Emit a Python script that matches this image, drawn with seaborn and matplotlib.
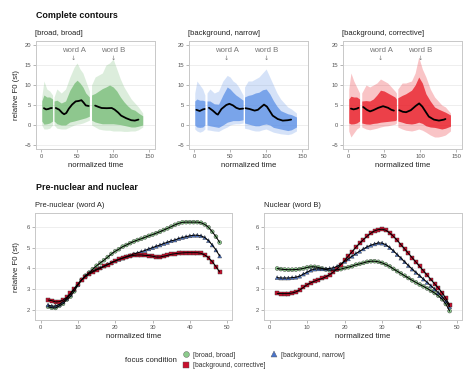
import numpy as np
import pandas as pd
import matplotlib
matplotlib.use("Agg")
import matplotlib.pyplot as plt
from matplotlib.lines import Line2D
import seaborn as sns

# ---------------- data ----------------
conditions = ["[broad, broad]", "[background, narrow]", "[background, corrective]"]
cloud_colors = ["#74bb74", "#5b8fe6", "#e8141f"]
mark_colors = ["#8ccb8c", "#4a74cc", "#c8102e"]
mark_styles = ["o", "^", "s"]

# normalized time for pre-nuclear / nuclear panels
t_word = list(range(2, 49))

wordA_broad = [2.16, 2.11, 2.10, 2.20, 2.30, 2.50, 2.65, 2.90, 3.20, 3.45, 3.65, 3.80, 3.97, 4.13, 4.27, 4.40,
               4.55, 4.70, 4.83, 4.93, 5.05, 5.13, 5.22, 5.30, 5.37, 5.43, 5.50, 5.57, 5.63, 5.70, 5.77, 5.85,
               5.93, 6.01, 6.10, 6.17, 6.22, 6.23, 6.23, 6.23, 6.23, 6.20, 6.12, 5.98, 5.77, 5.53, 5.25]
wordA_narrow = [2.24, 2.19, 2.19, 2.27, 2.40, 2.56, 2.75, 3.00, 3.23, 3.45, 3.64, 3.77, 3.88, 3.96, 4.04, 4.12,
                4.20, 4.28, 4.36, 4.44, 4.50, 4.57, 4.63, 4.70, 4.75, 4.81, 4.87, 4.94, 5.00, 5.07, 5.13, 5.20,
                5.26, 5.33, 5.37, 5.44, 5.49, 5.53, 5.57, 5.60, 5.60, 5.57, 5.49, 5.34, 5.13, 4.89, 4.60]
wordA_corrective = [2.48, 2.45, 2.39, 2.40, 2.48, 2.61, 2.80, 3.03, 3.25, 3.45, 3.60, 3.73, 3.83, 3.93, 4.00, 4.10,
                    4.18, 4.28, 4.36, 4.44, 4.50, 4.55, 4.60, 4.63, 4.65, 4.65, 4.63, 4.62, 4.59, 4.55, 4.55, 4.59,
                    4.63, 4.68, 4.71, 4.73, 4.75, 4.76, 4.76, 4.76, 4.76, 4.73, 4.65, 4.52, 4.33, 4.09, 3.83]

wordB_broad = [4.00, 3.97, 3.95, 3.94, 3.94, 3.95, 3.97, 4.00, 4.05, 4.08, 4.08, 4.05, 4.00, 3.95, 3.92, 3.92,
               3.94, 3.97, 4.02, 4.06, 4.11, 4.18, 4.22, 4.27, 4.32, 4.35, 4.35, 4.32, 4.27, 4.19, 4.10, 3.98,
               3.87, 3.76, 3.65, 3.54, 3.43, 3.33, 3.23, 3.14, 3.04, 2.93, 2.82, 2.69, 2.52, 2.29, 1.95]
wordB_narrow = [3.56, 3.54, 3.54, 3.54, 3.56, 3.58, 3.63, 3.73, 3.82, 3.92, 3.97, 3.98, 3.98, 3.98, 4.00, 4.03,
                4.10, 4.21, 4.34, 4.46, 4.59, 4.72, 4.83, 4.94, 5.04, 5.12, 5.18, 5.23, 5.22, 5.14, 5.01, 4.85,
                4.67, 4.50, 4.32, 4.14, 3.97, 3.81, 3.65, 3.49, 3.33, 3.17, 3.01, 2.83, 2.64, 2.43, 2.16]
wordB_corrective = [2.80, 2.79, 2.79, 2.79, 2.82, 2.87, 2.96, 3.09, 3.22, 3.31, 3.39, 3.46, 3.52, 3.60, 3.70, 3.83,
                    3.99, 4.18, 4.39, 4.60, 4.81, 5.02, 5.21, 5.39, 5.55, 5.70, 5.81, 5.87, 5.89, 5.84, 5.71, 5.55,
                    5.36, 5.15, 4.94, 4.73, 4.52, 4.31, 4.10, 3.89, 3.68, 3.47, 3.26, 3.06, 2.83, 2.56, 2.24]

# complete contours: mean lines (three segments per panel)
mean_x = [
    [[4, 7, 10, 13, 15],
     [20.5, 25, 29.5, 32, 35, 38.6, 43, 48, 52, 56, 59, 62, 66],
     [75, 80, 84, 91, 98, 102, 107, 111, 118, 125, 130, 135]],
    [[3.2, 7.8, 12.4, 14.7],
     [20.7, 26, 31, 33, 38, 44.7, 49, 54, 58.5, 63, 68],
     [71.4, 77, 84, 88.5, 93, 97, 101, 104.6, 109, 116, 123, 130, 134.6]],
    [[4, 7.7, 12.3, 14.5],
     [21, 26, 30.5, 35, 42, 48.6, 55.5, 60, 63.6],
     [71, 76, 80.5, 87, 94, 98.6, 103, 108, 112, 119, 126, 133, 135]],
]
mean_y = [
    [[4.2, 3.9, 4.0, 4.2, 4.25],
     [4.25, 3.85, 3.0, 2.7, 3.0, 4.1, 5.1, 5.9, 6.0, 6.2, 5.6, 4.9, 4.75],
     [4.85, 4.5, 4.25, 4.2, 4.25, 3.85, 3.1, 2.35, 1.7, 1.2, 1.1, 1.35]],
    [[3.8, 3.5, 3.9, 4.0],
     [4.3, 3.6, 2.8, 2.6, 4.0, 5.0, 5.3, 4.9, 4.3, 4.0, 4.1],
     [4.2, 4.0, 3.6, 3.8, 4.5, 5.1, 4.6, 3.6, 2.35, 1.5, 1.1, 1.2, 1.35]],
    [[4.1, 3.9, 4.1, 4.3],
     [4.5, 3.8, 3.4, 3.7, 4.3, 4.7, 4.3, 3.8, 3.6],
     [3.7, 3.3, 3.2, 3.7, 4.8, 5.4, 4.6, 3.2, 2.1, 1.35, 1.1, 1.35, 1.5]],
]

# complete contours: spread of the raw points (outer / dense envelopes), per segment
cloud_x = [
    [[1, 4, 8, 12, 16], [18, 22, 28, 34, 40, 46, 50, 54, 58, 62, 67],
     [70, 75, 80, 85, 90, 95, 100, 105, 110, 115, 120, 125, 130, 135, 141]],
    [[1, 4, 8, 12, 15], [18, 22, 28, 34, 40, 46, 50, 54, 58, 62, 68],
     [70, 75, 80, 85, 90, 95, 100, 105, 110, 115, 120, 125, 130, 135, 142]],
    [[1, 4, 8, 12, 16], [19, 25, 30, 35, 40, 45, 50, 55, 60, 65, 67],
     [69, 75, 80, 88, 93, 98, 103, 108, 114, 120, 125, 130, 135, 142]],
]
cloud_hi_outer = [
    [[7, 11, 9, 8.5, 7.5], [7, 9, 8, 9, 12, 14.5, 15.5, 14, 13, 11, 8.5],
     [10, 12, 12.5, 13, 15, 15.5, 16.5, 14, 11.5, 9.5, 8, 6.5, 5.5, 4.5, 3]],
    [[8, 11, 10, 9, 7.5], [8, 9, 8, 8.5, 11, 12.4, 12, 11, 10.5, 9.5, 7.5],
     [9.5, 11, 11, 11.5, 12, 13, 14, 12, 10, 8, 6.5, 5.5, 4.5, 4, 3]],
    [[9, 13, 11, 9.5, 8], [8, 10, 9.5, 10, 10.5, 11.5, 11, 10.5, 9.5, 8.5, 8],
     [9, 10.5, 10.5, 11, 13, 17, 14, 12, 9, 7, 6, 5, 4.5, 3]],
]
cloud_hi_core = [
    [[6, 7.5, 7, 7, 6.5], [6, 6.2, 5.5, 6, 8.7, 10.5, 11.2, 10.5, 9.5, 8, 7],
     [7.5, 7.9, 8.5, 9.1, 9.5, 10, 9.5, 8.5, 7, 5.8, 4.8, 4, 3.7, 3, 2.3]],
    [[6, 6.5, 6.2, 6.2, 6], [6, 6, 5.3, 5.2, 7.5, 9.5, 9, 8.2, 7.5, 7, 6.2],
     [7, 7.4, 7.6, 8, 8.2, 8.8, 9, 7.8, 6.1, 4.7, 3.6, 3.2, 2.8, 2.6, 2]],
    [[6.5, 7.2, 7, 7, 6.5], [6, 6.1, 6, 6.5, 7.5, 8.7, 8.5, 8, 7.5, 7, 6.5],
     [6.8, 7.4, 7.8, 8.7, 10, 12, 10.5, 7.8, 6, 4.5, 4, 3.6, 3.2, 2.5]],
]
cloud_lo_core = [
    [[1, 0.2, 0.3, 0.5, 1], [1, 0.3, 0, 0, 0.75, 1, 1.2, 1.4, 1.6, 1.8, 2.2],
     [1.2, 0.75, 0.5, 0.3, 0.3, 0.3, 0.3, 0.2, 0.1, -0.1, -0.3, -0.5, -0.5, -0.3, 0]],
    [[0, -0.5, -0.6, -0.5, 0], [0, -0.2, -0.4, -0.6, 0, 0.7, 0.9, 1.1, 1.1, 1.1, 1.3],
     [0.5, 0.25, 0, -0.2, -0.2, 0.1, 0.25, 0, -0.6, -0.8, -1, -1.2, -1.4, -1.2, -0.5]],
    [[0.5, 0.25, 0.3, 0.5, 1], [0.5, 0.25, 0.2, 0.4, 0.5, 0.7, 0.8, 0.9, 1, 1.1, 1.3],
     [1, 0.7, 0.4, 0.25, 0.4, 0.7, 0.4, -0.2, -0.5, -0.6, -0.8, -1, -0.8, -0.3]],
]
cloud_lo_outer = [
    [[0, -1, -1, -0.8, 0], [0, -0.8, -1, -1, -0.5, 0, 0.2, 0.3, 0.5, 0.8, 1.2],
     [0, -0.5, -1, -1.2, -1.3, -1.3, -1.5, -1.5, -1.5, -1.6, -1.6, -1.5, -1.5, -1.2, -0.5]],
    [[-1, -1.5, -1.8, -1.5, -1], [-1.2, -1.3, -1.5, -1.6, -1, -0.5, 0, 0.2, 0.3, 0.3, 0.5],
     [-0.8, -1, -1.3, -1.5, -1.5, -1.2, -1, -1.4, -1.8, -2, -2.2, -2.3, -2.4, -2.2, -1.5]],
    [[-1.5, -3, -2, -1, -0.5], [-0.5, -1, -1.2, -1, -0.8, -0.5, -0.3, -0.2, 0, 0.2, 0.5],
     [-0.5, -1, -1.3, -1.5, -1.3, -1, -1.3, -1.8, -2.5, -3, -3, -2.8, -2.5, -1.5]],
]

word_pos = [45, 100]
word_labels = ["word A", "word B"]
top_xticks = [0, 50, 100, 150]
top_yticks = [-5, 0, 5, 10, 15, 20]
bot_xticks = [0, 10, 20, 30, 40, 50]
bot_yticks = [2, 3, 4, 5, 6]

# ---------------- style ----------------
sns.set_theme(style="white")
plt.rcParams["font.family"] = ["Liberation Sans", "DejaVu Sans"]

W, H = 474, 379
fig = plt.figure(figsize=(W / 100, H / 100), dpi=100)

TXT = "#222222"
GREY = "#555555"
GRID = "#ebebeb"
FRAME = "#c8c8c8"


def rect(l, t, r, b):
    return [l / W, 1 - b / H, (r - l) / W, (b - t) / H]


def style_axes(ax, xticks, yticks):
    ax.set_xticks(xticks)
    ax.set_yticks(yticks)
    ax.grid(False)
    for yv in yticks:
        ax.axhline(yv, color=GRID, lw=0.6, zorder=0)
    for s in ax.spines.values():
        s.set_color(FRAME)
        s.set_linewidth(0.7)
    ax.tick_params(axis="both", which="both", length=2, width=0.5, color="#999999",
                   labelsize=4.2, labelcolor=GREY, pad=1.5, direction="out",
                   bottom=True, left=True)
    ax.set_facecolor("white")


# ---------------- top row: complete contours ----------------
top_rects = [rect(36, 41, 155, 149), rect(189, 41, 308, 149), rect(343, 41, 462, 149)]
for i in range(3):
    ax = fig.add_axes(top_rects[i])
    col = cloud_colors[i]
    for sx, ho, hc, lc, lo in zip(cloud_x[i], cloud_hi_outer[i], cloud_hi_core[i],
                                   cloud_lo_core[i], cloud_lo_outer[i]):
        ax.fill_between(sx, lo, ho, color=col, alpha=0.25, lw=0, zorder=1)
        ax.fill_between(sx, lc, hc, color=col, alpha=0.75, lw=0, zorder=2)
    for k, (mx, my) in enumerate(zip(mean_x[i], mean_y[i])):
        seg = pd.DataFrame({"t": mx, "f0": my})
        sns.lineplot(data=seg, x="t", y="f0", ax=ax, color="black", lw=1.3,
                     estimator=None, sort=False, zorder=5)
    ax.set_xlim(-7, 158)
    ax.set_ylim(-6, 21)
    style_axes(ax, top_xticks, top_yticks)
    for wx, wl in zip(word_pos, word_labels):
        ax.text(wx, 18.7, wl, ha="center", va="center", fontsize=5.6, color="#777777")
        ax.text(wx, 16.6, "\u2193", ha="center", va="center", fontsize=4.5, color="#777777",
                family=["DejaVu Sans"])
    ax.set_xlabel("normalized time", fontsize=5.6, color=TXT, labelpad=2)
    if i == 0:
        ax.set_ylabel("relative F0 (st)", fontsize=5.6, color=TXT, labelpad=3)
    else:
        ax.set_ylabel("")
    ax.set_title(conditions[i], fontsize=5.5, color=TXT, loc="left", pad=4, x=-0.01)

fig.text(36 / W, 1 - 15 / H, "Complete contours", fontsize=6.4, fontweight="bold",
         color="#111111", ha="left", va="center")
fig.text(36 / W, 1 - 187 / H, "Pre-nuclear and nuclear", fontsize=6.4, fontweight="bold",
         color="#111111", ha="left", va="center")

# ---------------- bottom row: pre-nuclear and nuclear ----------------
frames = []
for w, series in (("A", [wordA_broad, wordA_narrow, wordA_corrective]),
                  ("B", [wordB_broad, wordB_narrow, wordB_corrective])):
    for c, vals in zip(conditions, series):
        frames.append(pd.DataFrame({"word": w, "condition": c, "t": t_word, "f0": vals}))
df = pd.concat(frames, ignore_index=True)

pal = dict(zip(conditions, mark_colors))
mk = dict(zip(conditions, mark_styles))
bot_rects = [rect(35, 213, 232, 320), rect(264, 213, 462, 320)]
bot_titles = ["Pre-nuclear (word A)", "Nuclear (word B)"]
for j, w in enumerate(["A", "B"]):
    ax = fig.add_axes(bot_rects[j])
    sub = df[df["word"] == w]
    sns.scatterplot(data=sub, x="t", y="f0", hue="condition", style="condition",
                    palette=pal, markers=mk, s=8, edgecolor="#333333", linewidth=0.3,
                    ax=ax, legend=False, zorder=3)
    sns.lineplot(data=sub, x="t", y="f0", units="condition", estimator=None,
                 color="black", lw=0.75, ax=ax, legend=False, zorder=4)
    ax.set_xlim(-1.5, 51.3)
    ax.set_ylim(1.52, 6.67)
    style_axes(ax, bot_xticks, bot_yticks)
    ax.set_xlabel("normalized time", fontsize=5.6, color=TXT, labelpad=2)
    ax.set_ylabel("relative F0 (st)" if j == 0 else "", fontsize=5.6, color=TXT, labelpad=5)
    ax.set_title(bot_titles[j], fontsize=5.4, color=TXT, loc="left", pad=4, x=0.0)

# ---------------- legend ----------------
handles = []
for c in [conditions[0], conditions[2], conditions[1]]:
    handles.append(Line2D([], [], linestyle="none", marker=mk[c], markersize=4.2,
                          markerfacecolor=pal[c], markeredgecolor="#555555",
                          markeredgewidth=0.3, label=c))
leg = fig.legend(handles=handles, ncol=2, loc="center left",
                 bbox_to_anchor=(178 / W, 1 - 360.5 / H), frameon=False,
                 fontsize=4.9, handlelength=1.0, handletextpad=0.5,
                 columnspacing=0.8, labelspacing=0.55, borderpad=0.2)
for t in leg.get_texts():
    t.set_color("#333333")
fig.text(125 / W, 1 - 361 / H, "focus condition", fontsize=5.6, color=TXT,
         ha="left", va="center")

fig.savefig("out.png", dpi=100, facecolor="white")
